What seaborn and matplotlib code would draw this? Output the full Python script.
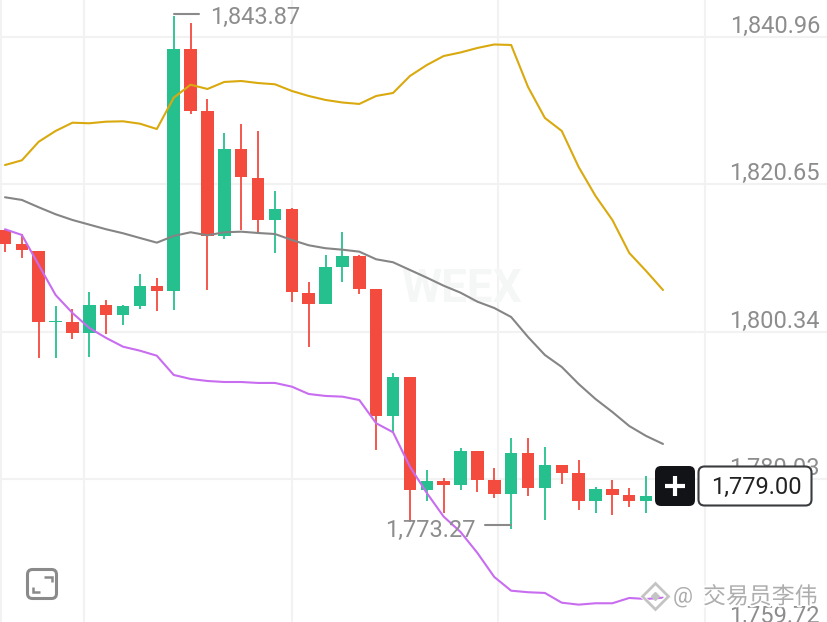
import numpy as np
import matplotlib
matplotlib.use("Agg")
import matplotlib.pyplot as plt
import matplotlib.patheffects as pe
from matplotlib.patches import FancyBboxPatch
import seaborn as sns

sns.set_theme(style="white")
plt.rcParams["font.family"] = ["Roboto", "Noto Sans CJK SC", "DejaVu Sans"]

open_prices = [1814.42, 1812.41, 1811.53, 1801.65, 1801.67, 1800.24, 1804.02, 1802.68, 1803.92, 1806.67,
               1805.98, 1839.27, 1830.77, 1813.56, 1825.54, 1821.58, 1815.72, 1817.23, 1805.71, 1804.19,
               1809.33, 1810.80, 1806.26, 1788.77, 1794.18, 1778.58, 1779.78, 1779.27, 1783.91, 1779.92,
               1778.07, 1783.72, 1778.82, 1781.98, 1780.92, 1777.11, 1778.72, 1777.85, 1777.07]
close_prices = [1812.50, 1811.59, 1801.67, 1801.79, 1800.24, 1804.02, 1802.68, 1803.88, 1806.67, 1805.98,
                1839.27, 1830.81, 1813.56, 1825.54, 1821.68, 1815.72, 1817.23, 1805.81, 1804.19, 1809.33,
                1810.80, 1806.26, 1788.77, 1794.18, 1778.58, 1779.78, 1779.23, 1783.91, 1779.96, 1778.07,
                1783.72, 1778.82, 1781.98, 1780.96, 1777.11, 1778.76, 1777.89, 1777.03, 1777.76]
high_prices = [1814.42, 1813.79, 1811.53, 1803.92, 1803.47, 1805.81, 1804.70, 1804.02, 1808.28, 1807.77,
               1843.87, 1842.85, 1832.46, 1827.70, 1829.02, 1827.97, 1819.80, 1817.41, 1807.18, 1810.90,
               1814.15, 1810.90, 1806.26, 1794.73, 1794.18, 1781.34, 1780.19, 1784.32, 1783.91, 1781.65,
               1785.74, 1785.74, 1784.46, 1781.98, 1782.72, 1778.95, 1779.96, 1778.82, 1780.51]
low_prices = [1811.40, 1810.57, 1796.80, 1796.80, 1799.37, 1796.86, 1800.06, 1801.30, 1803.55, 1803.27,
              1803.37, 1830.40, 1806.16, 1813.19, 1814.38, 1814.07, 1811.18, 1804.51, 1798.27, 1804.19,
              1807.18, 1805.61, 1784.05, 1786.39, 1774.18, 1777.11, 1775.37, 1778.58, 1778.31, 1777.44,
              1773.27, 1777.76, 1774.45, 1779.37, 1775.83, 1775.46, 1775.14, 1776.24, 1775.42]

upper_band = [1823.33, 1823.98, 1826.54, 1828.02, 1829.16, 1829.08, 1829.30, 1829.35, 1829.02, 1828.29,
              1832.60, 1834.39, 1833.80, 1834.77, 1834.90, 1834.62, 1834.45, 1833.53, 1832.84, 1832.29,
              1831.94, 1831.74, 1832.84, 1833.25, 1835.59, 1837.10, 1838.34, 1838.83, 1839.45, 1839.93,
              1839.86, 1834.08, 1829.81, 1828.02, 1823.06, 1819.07, 1815.76, 1811.22, 1808.74, 1806.12]
middle_band = [1818.89, 1818.52, 1817.51, 1816.55, 1815.76, 1815.12, 1814.48, 1813.93, 1813.28, 1812.64,
               1813.56, 1814.07, 1813.65, 1814.07, 1814.15, 1813.97, 1813.83, 1813.01, 1812.28, 1811.87,
               1811.67, 1811.40, 1810.35, 1809.94, 1808.88, 1807.82, 1806.71, 1805.75, 1804.51, 1803.64,
               1802.40, 1799.65, 1797.17, 1795.52, 1793.18, 1791.11, 1789.32, 1787.39, 1786.02, 1784.92]
lower_band = [1814.48, 1813.70, 1809.56, 1805.43, 1802.95, 1800.89, 1799.51, 1798.31, 1797.76, 1797.07,
              1794.42, 1793.87, 1793.59, 1793.45, 1793.45, 1793.32, 1793.32, 1792.81, 1791.80, 1791.53,
              1791.43, 1790.97, 1787.77, 1786.53, 1781.79, 1778.17, 1774.91, 1772.80, 1769.91, 1766.60,
              1764.71, 1764.50, 1764.40, 1763.06, 1762.79, 1762.98, 1762.98, 1763.71, 1763.57, 1763.75]

price_ticks = [1840.96, 1820.65, 1800.34, 1780.03, 1759.72]
time_grid = [-0.24, 4.68, 17.0, 29.22, 41.5]

GREEN = "#26c08e"
RED = "#f44b3f"
GRID = "#f2f2f2"
LABEL = "#8d8d8d"

fig = plt.figure(figsize=(8.28, 6.22), dpi=100)
ax = fig.add_axes([0, 0, 1, 1])
ax.set_xlim(-0.296, 48.78)
ax.set_ylim(1760.40, 1846.055)

# gridlines come from the tick positions
ax.set_yticks(price_ticks)
ax.set_xticks(time_grid)
ax.tick_params(left=False, bottom=False, labelleft=False, labelbottom=False)
ax.grid(True, color=GRID, linewidth=1.5, zorder=0)
ax.set_axisbelow(True)
sns.despine(ax=ax, left=True, bottom=True)

# faint WEEX watermark behind the candles
ax.text(0.485, 0.536, "WEEX", transform=ax.transAxes, fontsize=33, fontweight="bold",
        color="#f5f7f6", va="center", ha="left", zorder=1)

idx = np.arange(len(open_prices))
opens = np.array(open_prices)
closes = np.array(close_prices)
colors = [GREEN if c >= o else RED for o, c in zip(opens, closes)]

ax.vlines(idx, low_prices, high_prices, colors=colors, linewidth=1.3, zorder=2)
ax.bar(idx, np.abs(closes - opens), bottom=np.minimum(opens, closes), width=0.74,
       color=colors, linewidth=0, zorder=3)

# bands sit on top of the candles
for values, color in [(upper_band, "#d9a90e"), (middle_band, "#858585"), (lower_band, "#c86cf0")]:
    sns.lineplot(x=np.arange(len(values)), y=values, color=color, linewidth=1.5,
                 errorbar=None, legend=False, ax=ax, zorder=4)
ax.set_xlim(-0.296, 48.78)
ax.set_ylim(1760.40, 1846.055)

for price in price_ticks:
    ax.annotate(f"{price:,.2f}", xy=(820 / 828, price), xycoords=("axes fraction", "data"),
                xytext=(0, 3), textcoords="offset points", ha="right", va="baseline",
                fontsize=17, color=LABEL, annotation_clip=False, zorder=2)

# overlay in pixel coordinates for the app's buttons and labels
ui = fig.add_axes([0, 0, 1, 1], facecolor="none")
ui.set_xlim(0, 828)
ui.set_ylim(622, 0)
ui.axis("off")

ui.plot([174, 199], [13.5, 13.5], color="#8a8a8a", linewidth=1.5)
ui.text(210, 24, "1,843.87", fontsize=17, color=LABEL, ha="left", va="baseline")
ui.plot([485, 511], [525, 525], color="#8a8a8a", linewidth=1.5)
ui.text(476, 537, "1,773.27", fontsize=17, color=LABEL, ha="right", va="baseline")

# crosshair button and last price box
ui.add_patch(FancyBboxPatch((659, 470), 32, 32, boxstyle="round,pad=4,rounding_size=6",
                            facecolor="#111317", edgecolor="none", zorder=5))
ui.plot([665.5, 685.5], [485.5, 485.5], color="white", linewidth=3, zorder=6, solid_capstyle="butt")
ui.plot([675.5, 675.5], [475.5, 495.5], color="white", linewidth=3, zorder=6, solid_capstyle="butt")
ui.add_patch(FancyBboxPatch((702, 470), 106, 32, boxstyle="round,pad=3.5,rounding_size=6",
                            facecolor="white", edgecolor="#3a3b3f", linewidth=1.5, zorder=5))
ui.text(756, 494, "1,779.00", fontsize=17, color="#222222", ha="center", va="baseline", zorder=6)

# expand icon
ui.add_patch(FancyBboxPatch((31, 573), 22, 22, boxstyle="round,pad=3.5,rounding_size=5",
                            facecolor="white", edgecolor="#8a8a8a", linewidth=2.2, zorder=5))
ui.plot([43.7, 51.7, 51.7], [576.7, 576.7, 582], color="#8a8a8a", linewidth=1.8, zorder=6,
        solid_joinstyle="miter", solid_capstyle="butt")
ui.plot([32.7, 32.7, 40], [586.7, 592.3, 592.3], color="#8a8a8a", linewidth=1.8, zorder=6,
        solid_joinstyle="miter", solid_capstyle="butt")

# square.com-style source mark at the bottom right
halo = [pe.withStroke(linewidth=3, foreground="white")]
ui.plot([655], [596], marker="D", markersize=13, markerfacecolor="none", markeredgecolor="#c4c4c4",
        markeredgewidth=2, zorder=7, path_effects=halo)
ui.plot([655], [596], marker="D", markersize=4, color="#c4c4c4", zorder=7)
ui.text(683, 597, "@", fontsize=16, color="#adadad", ha="center", va="center", zorder=7, path_effects=halo)
ui.text(703, 597, "交易员李伟", fontsize=16.5, color="#adadad", ha="left", va="center", zorder=7, path_effects=halo)

fig.savefig("out.png", dpi=100)
